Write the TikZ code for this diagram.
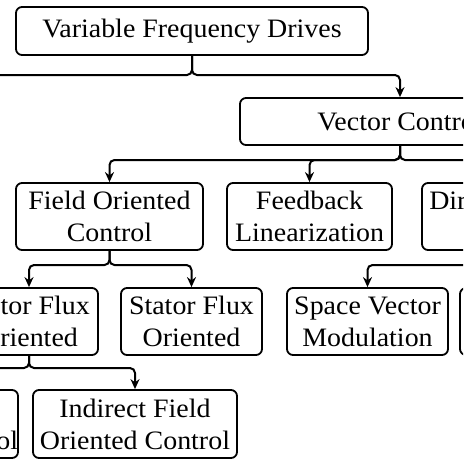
\documentclass[tikz,border=0pt]{standalone}
\usepackage{fontspec}
\setmainfont[FakeStretch=1.05]{Liberation Serif}
\usetikzlibrary{arrows.meta}
\begin{document}
\begin{tikzpicture}[x=1pt,y=-1pt,
  box/.style={draw, line width=1.8pt, rounded corners=6pt, align=center, inner sep=0pt,
    font=\fontsize{26.6}{32}\selectfont},
  conn/.style={line width=2pt, rounded corners=5pt, -{Stealth[length=10pt,width=9pt]}}]
\useasboundingbox (0,0) rectangle (463,463);
\clip (0,0) rectangle (463,463);
% boxes
\node[box, minimum width=352pt, minimum height=48pt] (vfd) at (192,31) {Variable Frequency Drives};
\node[box, minimum width=320pt, minimum height=47pt] (vc) at (400,121.5) {Vector Control};
\node[box, minimum width=187pt, minimum height=67pt] (foc) at (109.5,216.5) {Field Oriented\\Control};
\node[box, minimum width=165pt, minimum height=67pt] (fl) at (309.5,216.5) {Feedback\\Linearization};
\node[box, minimum width=170pt, minimum height=67pt] (dtc) at (507,216.5) {Direct Torque\\Control};
\node[box, minimum width=138pt, minimum height=67pt] (rfo) at (29,321.5) {Rotor Flux\\Oriented};
\node[box, minimum width=141pt, minimum height=67pt] (sfo) at (191.5,321.5) {Stator Flux\\Oriented};
\node[box, minimum width=161pt, minimum height=67pt] (svm) at (367.5,321.5) {Space Vector\\Modulation};
\node[box, minimum width=160pt, minimum height=67pt] (st) at (540,321.5) {};
\node[box, minimum width=190pt, minimum height=68pt] (dfoc) at (-77,424) {Direct Field\\Oriented Control};
\node[box, minimum width=204pt, minimum height=68pt] (ifoc) at (135,424) {Indirect Field\\Oriented Control};
% bus levels
\coordinate (b1) at (0,75);
\coordinate (b2) at (0,160);
\coordinate (b3) at (0,265);
\coordinate (b4) at (0,368);
\coordinate (sc) at (-60,98);
% connectors
\draw[conn] (vfd.south) |- (vc.north |- b1) -- (vc.north);
\draw[conn] (vfd.south) |- (sc |- b1) -- (sc);
\draw[conn] (vc.south) |- (foc.north |- b2) -- (foc.north);
\draw[conn] (vc.south) |- (fl.north |- b2) -- (fl.north);
\draw[conn] (vc.south) |- (dtc.north |- b2) -- (dtc.north);
\draw[conn] (foc.south) |- (rfo.north |- b3) -- (rfo.north);
\draw[conn] (foc.south) |- (sfo.north |- b3) -- (sfo.north);
\draw[conn] (dtc.south) |- (svm.north |- b3) -- (svm.north);
\draw[conn] (dtc.south) |- (st.north |- b3) -- (st.north);
\draw[conn] (rfo.south) |- (dfoc.north |- b4) -- (dfoc.north);
\draw[conn] (rfo.south) |- (ifoc.north |- b4) -- (ifoc.north);
\end{tikzpicture}
\end{document}
